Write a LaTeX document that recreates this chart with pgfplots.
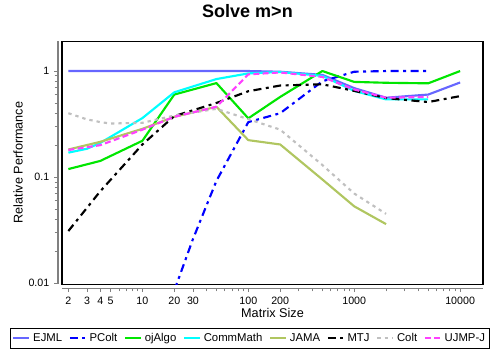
\documentclass[border=0pt]{standalone}
\usepackage{pgfplots}
\pgfplotsset{compat=1.18}
\usepackage{fontspec}
\setmainfont{Liberation Sans}
\definecolor{cEJML}{RGB}{102,102,255}
\definecolor{cPColt}{RGB}{0,0,255}
\definecolor{cOJ}{RGB}{0,230,0}
\definecolor{cCM}{RGB}{0,255,255}
\definecolor{cJAMA}{RGB}{176,198,96}
\definecolor{cMTJ}{RGB}{0,0,0}
\definecolor{cColt}{RGB}{192,192,192}
\definecolor{cUJMP}{RGB}{255,64,255}
\begin{document}
\begin{tikzpicture}
\begin{axis}[
  name=ax,
  scale only axis, width=315.75pt, height=182.25pt,
  xmode=log, ymode=log,
  xmin=1.741, xmax=16450, ymin=0.0098, ymax=1.918,
  axis lines*=left,
  axis line style={draw=gray, line width=0.8pt},
  axis x line shift=3pt, axis y line shift=3pt,
  axis background/.style={draw=black, line width=0.8pt},
  clip=true,
  tick align=outside,
  major tick length=3pt, minor tick length=2.5pt,
  every tick/.style={gray, line width=0.6pt},
  xtick={2,3,4,5,10,20,30,100,200,1000,10000},
  xticklabels={2,3,4,5,10,20,30,100,200,1000,10000},
  minor xtick={6,7,8,9,40,50,60,70,80,90,300,400,500,600,700,800,900,2000,3000,4000,5000,6000,7000,8000,9000},
  ytick={0.01,0.1,1},
  yticklabels={0.01,0.1,1},
  minor ytick={0.02,0.03,0.04,0.05,0.06,0.07,0.08,0.09,0.2,0.3,0.4,0.5,0.6,0.7,0.8,0.9},
  ticklabel style={font=\fontsize{8}{9.6}\selectfont},
  /pgf/number format/assume math mode=true,
  title={\fontsize{13.5}{16}\selectfont\bfseries Solve m>n},
  title style={at={(axis description cs:0.4406,1)}, anchor=south, yshift=8pt},
  xlabel={Matrix Size},
  xlabel style={font=\fontsize{9.5}{11}\selectfont, at={(axis description cs:0.5,-0.119)}, anchor=center},
  ylabel={Relative Performance},
  ylabel style={font=\fontsize{9.5}{11}\selectfont, at={(axis description cs:-0.1045,0.5)}, anchor=center, rotate=0},
  legend columns=8,
  legend style={at={(axis description cs:0.4466,-0.181)}, anchor=north, draw=black, line width=0.8pt,
    font=\fontsize{8.5}{10}\selectfont, inner sep=1.5pt,
    /tikz/every even column/.append style={column sep=3pt}},
  legend image code/.code={\draw[#1] (0pt,0pt) -- (12pt,0pt);},
  every axis plot/.append style={line width=1.6pt, line join=round},
]
\addplot[cEJML] coordinates {(2,1)(3,1)(4,1)(5,1)(10,1)(20,1)(50,1)(100,1)(200,0.985)(500,0.92)(1000,0.69)(2000,0.56)(5000,0.60)(10000,0.78)};
\addlegendentry{EJML}
\addplot[cPColt, dash pattern=on 6pt off 3.4pt on 2.2pt off 3.4pt] coordinates {(20,0.0085)(30,0.026)(50,0.092)(100,0.33)(200,0.40)(500,0.80)(1000,0.985)(2000,1.0)(5000,1.0)};
\addlegendentry{PColt}
\addplot[cOJ] coordinates {(2,0.119)(4,0.142)(10,0.22)(20,0.60)(50,0.77)(100,0.358)(200,0.57)(500,1.0)(1000,0.79)(2000,0.775)(5000,0.766)(10000,1.0)};
\addlegendentry{ojAlgo}
\addplot[cCM] coordinates {(2,0.17)(3,0.185)(4,0.21)(10,0.36)(20,0.63)(50,0.84)(100,0.95)(200,0.98)(500,0.90)(1000,0.65)(2000,0.54)(5000,0.54)};
\addlegendentry{CommMath}
\addplot[cJAMA] coordinates {(2,0.182)(4,0.215)(10,0.285)(20,0.37)(50,0.46)(100,0.223)(200,0.203)(500,0.095)(1000,0.053)(2000,0.036)};
\addlegendentry{JAMA}
\addplot[cMTJ, dash pattern=on 6pt off 3.4pt on 2.2pt off 3.4pt] coordinates {(2,0.031)(4,0.0735)(10,0.203)(20,0.376)(50,0.50)(100,0.645)(200,0.73)(500,0.75)(1000,0.65)(2000,0.556)(5000,0.51)(10000,0.58)};
\addlegendentry{MTJ}
\addplot[cColt, dash pattern=on 2.5pt off 3pt] coordinates {(2,0.40)(3,0.35)(4,0.33)(5,0.32)(10,0.325)(20,0.38)(50,0.44)(100,0.352)(200,0.28)(500,0.13)(1000,0.07)(2000,0.045)};
\addlegendentry{Colt}
\addplot[cUJMP, dash pattern=on 4.5pt off 2.5pt] coordinates {(2,0.18)(4,0.20)(10,0.28)(20,0.37)(50,0.46)(100,0.93)(200,0.97)(500,0.88)(1000,0.67)(2000,0.56)(5000,0.57)};
\addlegendentry{UJMP-J}
\end{axis}
\path ([xshift=-46.5pt,yshift=-50.25pt]ax.south west) rectangle ([xshift=12.75pt,yshift=30pt]ax.north east);
\end{tikzpicture}
\end{document}
